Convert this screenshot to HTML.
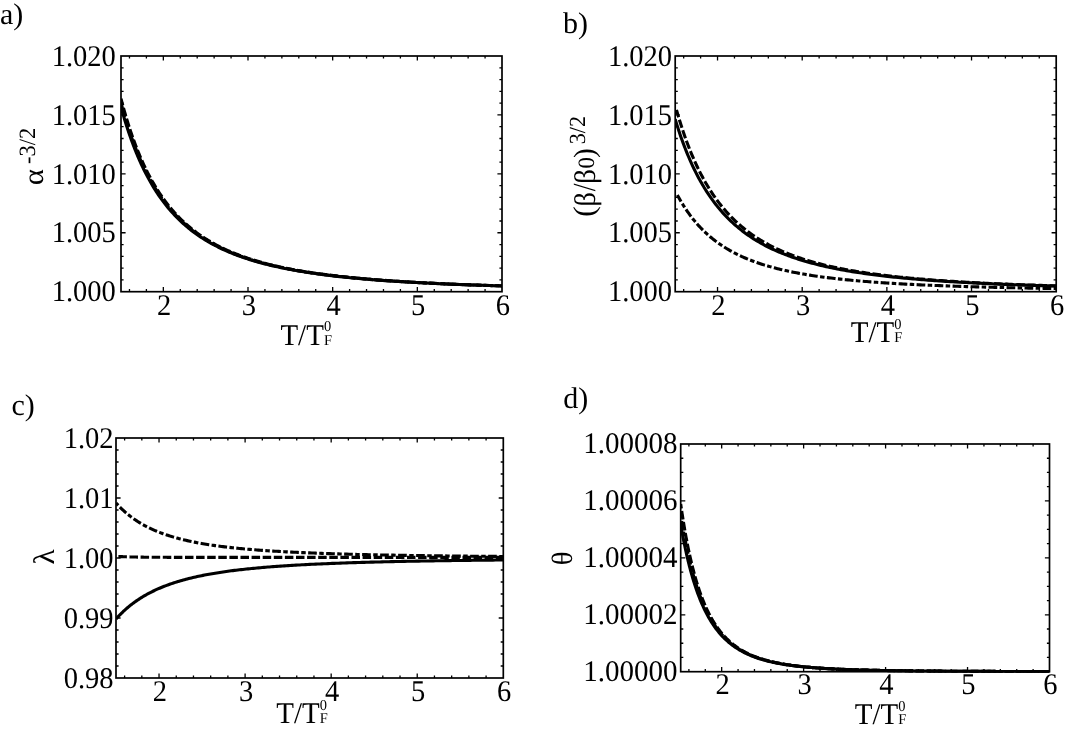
<!DOCTYPE html>
<html lang="en"><head><meta charset="utf-8"><title>Scaling parameters vs T/TF0</title>
<style>html,body{margin:0;padding:0;background:#fff;}svg{display:block;}</style></head><body>
<svg width="1065" height="733" viewBox="0 0 1065 733" font-family='"Liberation Serif", "DejaVu Serif", serif' fill="#000" text-rendering="geometricPrecision">
<rect width="1065" height="733" fill="#fff"/>
<g id="panel-a">
<clipPath id="ca"><rect x="121" y="56" width="381" height="235.7"/></clipPath>
<g clip-path="url(#ca)">
<path d="M121.00 98.64L121.06 98.87L121.18 99.33L121.35 99.97L121.55 100.74L121.78 101.63L122.05 102.63L122.34 103.73L122.66 104.91L123.01 106.18L123.37 107.52L123.77 108.92L124.18 110.40L124.61 111.92L125.07 113.51L125.54 115.14L126.04 116.81L126.55 118.52L127.08 120.28L127.63 122.06L128.20 123.88L128.78 125.72L129.38 127.59L130.00 129.47L130.63 131.38L131.28 133.30L131.95 135.24L132.63 137.18L133.33 139.14L134.04 141.10L134.77 143.07L135.51 145.04L136.27 147.01L137.04 148.98L137.82 150.95L138.62 152.91L139.43 154.87L140.26 156.82L141.10 158.77L141.95 160.70L142.82 162.63L143.70 164.54L144.59 166.44L145.49 168.33L146.41 170.21L147.34 172.07L148.28 173.91L149.24 175.74L150.21 177.56L151.19 179.35L152.18 181.13L153.18 182.89L154.20 184.63L155.22 186.35L156.26 188.05L157.31 189.73L158.38 191.39L159.45 193.03L160.53 194.65L161.63 196.25L162.74 197.83L163.86 199.39L164.99 200.92L166.13 202.44L167.28 203.93L168.44 205.41L169.61 206.86L170.80 208.29L171.99 209.70L173.20 211.09L174.41 212.46L175.64 213.80L176.88 215.13L178.12 216.43L179.38 217.72L180.65 218.98L181.92 220.23L183.21 221.45L184.51 222.65L185.82 223.84L187.14 225.00L188.46 226.15L189.80 227.27L191.15 228.38L192.50 229.47L193.87 230.54L195.25 231.59L196.63 232.63L198.03 233.64L199.44 234.64L200.85 235.62L202.27 236.59L203.71 237.53L205.15 238.46L206.60 239.38L208.07 240.28L209.54 241.16L211.02 242.02L212.51 242.87L214.00 243.71L215.51 244.53L217.03 245.34L218.55 246.13L220.09 246.90L221.63 247.67L223.19 248.42L224.75 249.15L226.32 249.87L227.90 250.58L229.49 251.28L231.08 251.96L232.69 252.63L234.30 253.29L235.92 253.94L237.56 254.57L239.20 255.20L240.85 255.81L242.50 256.41L244.17 257.00L245.84 257.58L247.53 258.15L249.22 258.71L250.92 259.25L252.62 259.79L254.34 260.32L256.07 260.84L257.80 261.35L259.54 261.84L261.29 262.34L263.05 262.82L264.81 263.29L266.59 263.75L268.37 264.21L270.16 264.65L271.96 265.09L273.76 265.52L275.58 265.95L277.40 266.36L279.23 266.77L281.07 267.17L282.92 267.56L284.77 267.95L286.63 268.33L288.50 268.70L290.38 269.07L292.27 269.42L294.16 269.78L296.06 270.12L297.97 270.46L299.89 270.80L301.81 271.12L303.75 271.45L305.69 271.76L307.64 272.07L309.59 272.38L311.55 272.68L313.53 272.97L315.50 273.26L317.49 273.54L319.48 273.82L321.48 274.10L323.49 274.36L325.51 274.63L327.53 274.89L329.56 275.14L331.60 275.39L333.65 275.64L335.70 275.88L337.76 276.12L339.83 276.35L341.91 276.58L343.99 276.81L346.08 277.03L348.18 277.25L350.28 277.46L352.39 277.67L354.51 277.88L356.64 278.08L358.77 278.28L360.91 278.47L363.06 278.67L365.22 278.86L367.38 279.04L369.55 279.23L371.72 279.41L373.91 279.58L376.10 279.76L378.30 279.93L380.50 280.10L382.71 280.26L384.93 280.42L387.16 280.58L389.39 280.74L391.63 280.90L393.88 281.05L396.13 281.20L398.39 281.34L400.66 281.49L402.94 281.63L405.22 281.77L407.51 281.91L409.80 282.04L412.11 282.18L414.41 282.31L416.73 282.44L419.05 282.56L421.38 282.69L423.72 282.81L426.06 282.93L428.41 283.05L430.77 283.17L433.13 283.28L435.50 283.39L437.88 283.51L440.26 283.62L442.65 283.72L445.05 283.83L447.46 283.93L449.87 284.04L452.28 284.14L454.71 284.24L457.14 284.34L459.57 284.43L462.02 284.53L464.47 284.62L466.92 284.71L469.39 284.80L471.86 284.89L474.33 284.98L476.82 285.07L479.31 285.15L481.80 285.24L484.30 285.32L486.81 285.40L489.33 285.48L491.85 285.56L494.38 285.64L496.91 285.71L499.45 285.79L502.00 285.86" fill="none" stroke="#000" stroke-width="3.1" stroke-dasharray="8.5 2.6" stroke-dashoffset="1.5"/>
<path d="M121.00 102.89L121.06 103.11L121.18 103.56L121.35 104.18L121.55 104.92L121.78 105.79L122.05 106.76L122.34 107.82L122.66 108.97L123.01 110.20L123.37 111.50L123.77 112.87L124.18 114.29L124.61 115.78L125.07 117.31L125.54 118.89L126.04 120.52L126.55 122.18L127.08 123.88L127.63 125.62L128.20 127.38L128.78 129.17L129.38 130.98L130.00 132.82L130.63 134.67L131.28 136.54L131.95 138.42L132.63 140.31L133.33 142.21L134.04 144.12L134.77 146.03L135.51 147.95L136.27 149.86L137.04 151.78L137.82 153.70L138.62 155.61L139.43 157.51L140.26 159.41L141.10 161.31L141.95 163.19L142.82 165.07L143.70 166.93L144.59 168.79L145.49 170.63L146.41 172.45L147.34 174.27L148.28 176.06L149.24 177.85L150.21 179.61L151.19 181.36L152.18 183.10L153.18 184.81L154.20 186.51L155.22 188.19L156.26 189.85L157.31 191.49L158.38 193.11L159.45 194.71L160.53 196.30L161.63 197.86L162.74 199.40L163.86 200.92L164.99 202.42L166.13 203.91L167.28 205.37L168.44 206.81L169.61 208.23L170.80 209.62L171.99 211.00L173.20 212.36L174.41 213.70L175.64 215.02L176.88 216.31L178.12 217.59L179.38 218.85L180.65 220.09L181.92 221.30L183.21 222.50L184.51 223.68L185.82 224.84L187.14 225.98L188.46 227.11L189.80 228.21L191.15 229.29L192.50 230.36L193.87 231.41L195.25 232.44L196.63 233.45L198.03 234.45L199.44 235.43L200.85 236.39L202.27 237.34L203.71 238.27L205.15 239.18L206.60 240.08L208.07 240.96L209.54 241.82L211.02 242.68L212.51 243.51L214.00 244.33L215.51 245.14L217.03 245.93L218.55 246.71L220.09 247.47L221.63 248.22L223.19 248.95L224.75 249.68L226.32 250.39L227.90 251.08L229.49 251.77L231.08 252.44L232.69 253.10L234.30 253.75L235.92 254.39L237.56 255.01L239.20 255.62L240.85 256.23L242.50 256.82L244.17 257.40L245.84 257.97L247.53 258.53L249.22 259.08L250.92 259.61L252.62 260.14L254.34 260.66L256.07 261.17L257.80 261.67L259.54 262.17L261.29 262.65L263.05 263.12L264.81 263.59L266.59 264.05L268.37 264.49L270.16 264.94L271.96 265.37L273.76 265.79L275.58 266.21L277.40 266.62L279.23 267.02L281.07 267.42L282.92 267.80L284.77 268.18L286.63 268.56L288.50 268.92L290.38 269.29L292.27 269.64L294.16 269.99L296.06 270.33L297.97 270.66L299.89 270.99L301.81 271.32L303.75 271.63L305.69 271.95L307.64 272.25L309.59 272.55L311.55 272.85L313.53 273.14L315.50 273.42L317.49 273.70L319.48 273.98L321.48 274.25L323.49 274.52L325.51 274.78L327.53 275.03L329.56 275.28L331.60 275.53L333.65 275.77L335.70 276.01L337.76 276.25L339.83 276.48L341.91 276.71L343.99 276.93L346.08 277.15L348.18 277.36L350.28 277.57L352.39 277.78L354.51 277.99L356.64 278.19L358.77 278.38L360.91 278.58L363.06 278.77L365.22 278.96L367.38 279.14L369.55 279.32L371.72 279.50L373.91 279.68L376.10 279.85L378.30 280.02L380.50 280.18L382.71 280.35L384.93 280.51L387.16 280.67L389.39 280.82L391.63 280.97L393.88 281.12L396.13 281.27L398.39 281.42L400.66 281.56L402.94 281.70L405.22 281.84L407.51 281.98L409.80 282.11L412.11 282.24L414.41 282.37L416.73 282.50L419.05 282.63L421.38 282.75L423.72 282.87L426.06 282.99L428.41 283.11L430.77 283.22L433.13 283.34L435.50 283.45L437.88 283.56L440.26 283.67L442.65 283.77L445.05 283.88L447.46 283.98L449.87 284.09L452.28 284.19L454.71 284.28L457.14 284.38L459.57 284.48L462.02 284.57L464.47 284.66L466.92 284.75L469.39 284.84L471.86 284.93L474.33 285.02L476.82 285.11L479.31 285.19L481.80 285.27L484.30 285.36L486.81 285.44L489.33 285.52L491.85 285.59L494.38 285.67L496.91 285.75L499.45 285.82L502.00 285.89" fill="none" stroke="#000" stroke-width="3.1" stroke-dasharray="8.7 2.4 4.5 2.4" stroke-dashoffset="1"/>
<path d="M121.00 106.95L121.06 107.17L121.18 107.61L121.35 108.20L121.55 108.93L121.78 109.77L122.05 110.71L122.34 111.74L122.66 112.86L123.01 114.05L123.37 115.31L123.77 116.63L124.18 118.02L124.61 119.46L125.07 120.95L125.54 122.49L126.04 124.07L126.55 125.68L127.08 127.33L127.63 129.02L128.20 130.73L128.78 132.47L129.38 134.23L130.00 136.02L130.63 137.82L131.28 139.63L131.95 141.46L132.63 143.30L133.33 145.15L134.04 147.01L134.77 148.87L135.51 150.73L136.27 152.60L137.04 154.46L137.82 156.33L138.62 158.19L139.43 160.04L140.26 161.89L141.10 163.74L141.95 165.57L142.82 167.40L143.70 169.22L144.59 171.02L145.49 172.82L146.41 174.60L147.34 176.37L148.28 178.12L149.24 179.86L150.21 181.58L151.19 183.29L152.18 184.98L153.18 186.66L154.20 188.31L155.22 189.95L156.26 191.57L157.31 193.18L158.38 194.76L159.45 196.33L160.53 197.87L161.63 199.40L162.74 200.90L163.86 202.39L164.99 203.86L166.13 205.31L167.28 206.74L168.44 208.14L169.61 209.53L170.80 210.90L171.99 212.25L173.20 213.58L174.41 214.89L175.64 216.18L176.88 217.45L178.12 218.70L179.38 219.93L180.65 221.14L181.92 222.34L183.21 223.51L184.51 224.66L185.82 225.80L187.14 226.92L188.46 228.02L189.80 229.10L191.15 230.17L192.50 231.21L193.87 232.24L195.25 233.25L196.63 234.25L198.03 235.22L199.44 236.19L200.85 237.13L202.27 238.06L203.71 238.97L205.15 239.87L206.60 240.75L208.07 241.61L209.54 242.46L211.02 243.30L212.51 244.12L214.00 244.92L215.51 245.72L217.03 246.49L218.55 247.26L220.09 248.01L221.63 248.75L223.19 249.47L224.75 250.18L226.32 250.88L227.90 251.56L229.49 252.24L231.08 252.90L232.69 253.55L234.30 254.19L235.92 254.81L237.56 255.43L239.20 256.03L240.85 256.62L242.50 257.20L244.17 257.78L245.84 258.34L247.53 258.89L249.22 259.43L250.92 259.96L252.62 260.48L254.34 260.99L256.07 261.50L257.80 261.99L259.54 262.47L261.29 262.95L263.05 263.42L264.81 263.88L266.59 264.33L268.37 264.77L270.16 265.20L271.96 265.63L273.76 266.05L275.58 266.46L277.40 266.86L279.23 267.26L281.07 267.65L282.92 268.03L284.77 268.41L286.63 268.78L288.50 269.14L290.38 269.49L292.27 269.84L294.16 270.19L296.06 270.52L297.97 270.85L299.89 271.18L301.81 271.50L303.75 271.81L305.69 272.12L307.64 272.42L309.59 272.72L311.55 273.01L313.53 273.30L315.50 273.58L317.49 273.86L319.48 274.13L321.48 274.40L323.49 274.66L325.51 274.92L327.53 275.17L329.56 275.42L331.60 275.66L333.65 275.90L335.70 276.14L337.76 276.37L339.83 276.60L341.91 276.83L343.99 277.05L346.08 277.26L348.18 277.48L350.28 277.68L352.39 277.89L354.51 278.09L356.64 278.29L358.77 278.49L360.91 278.68L363.06 278.87L365.22 279.05L367.38 279.23L369.55 279.41L371.72 279.59L373.91 279.76L376.10 279.93L378.30 280.10L380.50 280.27L382.71 280.43L384.93 280.59L387.16 280.74L389.39 280.90L391.63 281.05L393.88 281.20L396.13 281.34L398.39 281.49L400.66 281.63L402.94 281.77L405.22 281.91L407.51 282.04L409.80 282.17L412.11 282.31L414.41 282.43L416.73 282.56L419.05 282.68L421.38 282.81L423.72 282.93L426.06 283.05L428.41 283.16L430.77 283.28L433.13 283.39L435.50 283.50L437.88 283.61L440.26 283.72L442.65 283.82L445.05 283.93L447.46 284.03L449.87 284.13L452.28 284.23L454.71 284.33L457.14 284.43L459.57 284.52L462.02 284.61L464.47 284.71L466.92 284.80L469.39 284.88L471.86 284.97L474.33 285.06L476.82 285.14L479.31 285.23L481.80 285.31L484.30 285.39L486.81 285.47L489.33 285.55L491.85 285.63L494.38 285.70L496.91 285.78L499.45 285.85L502.00 285.93" fill="none" stroke="#000" stroke-width="3.1"/>
</g>
<rect x="121" y="56" width="381" height="235.7" fill="none" stroke="#000" stroke-width="1.7"/>
<path d="M129.47 291.7v-2.6M129.47 56v2.6M146.4 291.7v-2.6M146.4 56v2.6M163.33 291.7v-4.6M163.33 56v4.6M180.27 291.7v-2.6M180.27 56v2.6M197.2 291.7v-2.6M197.2 56v2.6M214.13 291.7v-2.6M214.13 56v2.6M231.07 291.7v-2.6M231.07 56v2.6M248 291.7v-4.6M248 56v4.6M264.93 291.7v-2.6M264.93 56v2.6M281.87 291.7v-2.6M281.87 56v2.6M298.8 291.7v-2.6M298.8 56v2.6M315.73 291.7v-2.6M315.73 56v2.6M332.67 291.7v-4.6M332.67 56v4.6M349.6 291.7v-2.6M349.6 56v2.6M366.53 291.7v-2.6M366.53 56v2.6M383.47 291.7v-2.6M383.47 56v2.6M400.4 291.7v-2.6M400.4 56v2.6M417.33 291.7v-4.6M417.33 56v4.6M434.27 291.7v-2.6M434.27 56v2.6M451.2 291.7v-2.6M451.2 56v2.6M468.13 291.7v-2.6M468.13 56v2.6M485.07 291.7v-2.6M485.07 56v2.6M121 279.91h2.6M502 279.91h-2.6M121 268.13h2.6M502 268.13h-2.6M121 256.34h2.6M502 256.34h-2.6M121 244.56h2.6M502 244.56h-2.6M121 232.77h4.6M502 232.77h-4.6M121 220.99h2.6M502 220.99h-2.6M121 209.2h2.6M502 209.2h-2.6M121 197.42h2.6M502 197.42h-2.6M121 185.63h2.6M502 185.63h-2.6M121 173.85h4.6M502 173.85h-4.6M121 162.06h2.6M502 162.06h-2.6M121 150.28h2.6M502 150.28h-2.6M121 138.5h2.6M502 138.5h-2.6M121 126.71h2.6M502 126.71h-2.6M121 114.93h4.6M502 114.93h-4.6M121 103.14h2.6M502 103.14h-2.6M121 91.35h2.6M502 91.35h-2.6M121 79.57h2.6M502 79.57h-2.6M121 67.78h2.6M502 67.78h-2.6" fill="none" stroke="#000" stroke-width="1.3"/>
<text transform="translate(115.8 301.4) scale(0.95 1.0)" font-size="30" text-anchor="end">1.000</text>
<text transform="translate(115.8 242.47) scale(0.95 1.0)" font-size="30" text-anchor="end">1.005</text>
<text transform="translate(115.8 183.55) scale(0.95 1.0)" font-size="30" text-anchor="end">1.010</text>
<text transform="translate(115.8 124.63) scale(0.95 1.0)" font-size="30" text-anchor="end">1.015</text>
<text transform="translate(115.8 65.7) scale(0.95 1.0)" font-size="30" text-anchor="end">1.020</text>
<text transform="translate(164.23 315.2) scale(0.95 1.0)" font-size="30" text-anchor="middle">2</text>
<text transform="translate(248.9 315.2) scale(0.95 1.0)" font-size="30" text-anchor="middle">3</text>
<text transform="translate(333.57 315.2) scale(0.95 1.0)" font-size="30" text-anchor="middle">4</text>
<text transform="translate(418.23 315.2) scale(0.95 1.0)" font-size="30" text-anchor="middle">5</text>
<text transform="translate(502.9 315.2) scale(0.95 1.0)" font-size="30" text-anchor="middle">6</text>
<text transform="translate(280.4 344.8) scale(0.965 1.0)" font-size="30">T/T</text>
<text transform="translate(323.9 331.4) scale(0.965 1.0)" font-size="15">0</text>
<text transform="translate(323.9 344.8) scale(0.965 1.0)" font-size="15">F</text>
<text x="0" y="24" font-size="30">a)</text>
<text transform="translate(42.81 185.14) rotate(-90) scale(1.081 1)" font-size="28.75">α</text>
<text transform="translate(34.77 163.9) rotate(-90) scale(0.959 1)" font-size="23.33">-3/2</text>
</g>
<g id="panel-b">
<clipPath id="cb"><rect x="675.2" y="56" width="381" height="235.7"/></clipPath>
<g clip-path="url(#cb)">
<path d="M677.40 195.01L677.46 195.12L677.58 195.35L677.74 195.65L677.94 196.03L678.18 196.45L678.44 196.94L678.73 197.46L679.05 198.04L679.39 198.65L679.76 199.29L680.15 199.97L680.56 200.68L680.99 201.42L681.44 202.18L681.92 202.97L682.41 203.78L682.92 204.61L683.45 205.46L683.99 206.32L684.56 207.20L685.14 208.10L685.73 209.00L686.35 209.92L686.98 210.84L687.63 211.78L688.29 212.72L688.97 213.67L689.66 214.62L690.37 215.57L691.09 216.53L691.83 217.49L692.58 218.46L693.34 219.42L694.12 220.38L694.92 221.34L695.73 222.30L696.55 223.26L697.38 224.21L698.23 225.16L699.09 226.11L699.96 227.05L700.85 227.98L701.75 228.91L702.66 229.83L703.59 230.75L704.53 231.66L705.48 232.56L706.44 233.46L707.41 234.34L708.40 235.22L709.40 236.09L710.40 236.95L711.43 237.81L712.46 238.65L713.50 239.48L714.56 240.31L715.63 241.12L716.71 241.93L717.80 242.72L718.90 243.51L720.01 244.29L721.13 245.05L722.27 245.81L723.41 246.55L724.57 247.29L725.73 248.02L726.91 248.73L728.10 249.44L729.30 250.13L730.50 250.82L731.72 251.49L732.95 252.16L734.19 252.81L735.44 253.46L736.70 254.10L737.97 254.72L739.25 255.34L740.54 255.95L741.84 256.54L743.15 257.13L744.47 257.71L745.80 258.28L747.14 258.84L748.49 259.39L749.85 259.93L751.22 260.46L752.60 260.99L753.99 261.50L755.38 262.01L756.79 262.51L758.21 263.00L759.63 263.48L761.07 263.95L762.51 264.42L763.96 264.87L765.43 265.32L766.90 265.76L768.38 266.20L769.87 266.62L771.37 267.04L772.87 267.45L774.39 267.86L775.92 268.26L777.45 268.65L779.00 269.03L780.55 269.41L782.11 269.78L783.68 270.14L785.26 270.50L786.85 270.85L788.44 271.19L790.05 271.53L791.66 271.86L793.28 272.19L794.91 272.51L796.55 272.83L798.20 273.14L799.86 273.44L801.52 273.74L803.19 274.03L804.88 274.32L806.57 274.60L808.26 274.88L809.97 275.15L811.69 275.42L813.41 275.68L815.14 275.94L816.88 276.20L818.63 276.45L820.38 276.69L822.15 276.93L823.92 277.17L825.70 277.40L827.49 277.63L829.28 277.85L831.09 278.07L832.90 278.29L834.72 278.50L836.55 278.71L838.38 278.91L840.23 279.11L842.08 279.31L843.94 279.50L845.80 279.69L847.68 279.88L849.56 280.06L851.45 280.24L853.35 280.42L855.26 280.60L857.17 280.77L859.09 280.94L861.02 281.10L862.96 281.26L864.90 281.42L866.85 281.58L868.81 281.73L870.78 281.88L872.76 282.03L874.74 282.18L876.73 282.32L878.72 282.46L880.73 282.60L882.74 282.74L884.76 282.87L886.79 283.00L888.82 283.13L890.86 283.26L892.91 283.38L894.97 283.51L897.03 283.63L899.10 283.75L901.18 283.86L903.26 283.98L905.36 284.09L907.46 284.20L909.56 284.31L911.68 284.42L913.80 284.52L915.93 284.63L918.06 284.73L920.21 284.83L922.36 284.93L924.51 285.02L926.68 285.12L928.85 285.21L931.03 285.30L933.21 285.39L935.40 285.48L937.60 285.57L939.81 285.66L942.02 285.74L944.24 285.82L946.47 285.90L948.70 285.99L950.94 286.06L953.19 286.14L955.45 286.22L957.71 286.29L959.98 286.37L962.25 286.44L964.54 286.51L966.82 286.58L969.12 286.65L971.42 286.72L973.73 286.79L976.05 286.85L978.37 286.92L980.70 286.98L983.04 287.05L985.38 287.11L987.73 287.17L990.09 287.23L992.45 287.29L994.82 287.35L997.20 287.41L999.58 287.46L1001.97 287.52L1004.37 287.57L1006.77 287.63L1009.18 287.68L1011.60 287.73L1014.02 287.78L1016.45 287.83L1018.88 287.88L1021.33 287.93L1023.78 287.98L1026.23 288.03L1028.69 288.08L1031.16 288.12L1033.64 288.17L1036.12 288.21L1038.61 288.26L1041.10 288.30L1043.60 288.34L1046.11 288.38L1048.62 288.43L1051.14 288.47L1053.67 288.51L1056.20 288.55" fill="none" stroke="#000" stroke-width="3.1" stroke-dasharray="8.7 2.4 4.5 2.4" stroke-dashoffset="1.2"/>
<path d="M676.50 109.93L676.56 110.14L676.68 110.56L676.84 111.14L677.05 111.85L677.28 112.66L677.54 113.58L677.84 114.58L678.16 115.66L678.50 116.82L678.87 118.04L679.26 119.33L679.67 120.68L680.10 122.08L680.55 123.53L681.03 125.02L681.52 126.55L682.03 128.13L682.56 129.73L683.11 131.37L683.67 133.04L684.25 134.73L684.85 136.45L685.47 138.18L686.10 139.93L686.75 141.70L687.41 143.48L688.09 145.28L688.79 147.08L689.50 148.89L690.22 150.70L690.96 152.52L691.71 154.34L692.48 156.16L693.26 157.98L694.06 159.80L694.87 161.61L695.69 163.42L696.53 165.22L697.38 167.01L698.24 168.80L699.12 170.57L700.01 172.34L700.91 174.09L701.82 175.84L702.75 177.57L703.69 179.28L704.64 180.98L705.61 182.67L706.58 184.34L707.57 186.00L708.57 187.64L709.58 189.26L710.61 190.87L711.64 192.46L712.69 194.03L713.75 195.59L714.82 197.12L715.90 198.64L716.99 200.14L718.10 201.62L719.21 203.08L720.34 204.52L721.47 205.94L722.62 207.35L723.78 208.73L724.95 210.10L726.13 211.44L727.32 212.77L728.52 214.08L729.73 215.37L730.95 216.63L732.18 217.89L733.43 219.12L734.68 220.33L735.94 221.52L737.22 222.70L738.50 223.86L739.79 225.00L741.10 226.12L742.41 227.22L743.73 228.31L745.07 229.37L746.41 230.42L747.76 231.46L749.12 232.47L750.49 233.47L751.88 234.45L753.27 235.42L754.67 236.37L756.08 237.30L757.50 238.22L758.93 239.12L760.36 240.01L761.81 240.88L763.27 241.74L764.73 242.58L766.21 243.40L767.69 244.22L769.19 245.01L770.69 245.80L772.20 246.57L773.72 247.33L775.25 248.07L776.79 248.80L778.34 249.52L779.89 250.22L781.46 250.91L783.03 251.59L784.62 252.26L786.21 252.92L787.81 253.56L789.42 254.20L791.03 254.82L792.66 255.43L794.29 256.03L795.94 256.61L797.59 257.19L799.25 257.76L800.92 258.32L802.59 258.87L804.28 259.40L805.97 259.93L807.68 260.45L809.39 260.96L811.10 261.46L812.83 261.95L814.57 262.43L816.31 262.91L818.06 263.37L819.82 263.83L821.59 264.28L823.37 264.72L825.15 265.15L826.94 265.57L828.74 265.99L830.55 266.40L832.37 266.80L834.19 267.20L836.02 267.59L837.86 267.97L839.71 268.34L841.57 268.71L843.43 269.07L845.30 269.42L847.18 269.77L849.07 270.12L850.97 270.45L852.87 270.78L854.78 271.11L856.70 271.42L858.62 271.74L860.56 272.05L862.50 272.35L864.45 272.64L866.40 272.94L868.37 273.22L870.34 273.50L872.32 273.78L874.31 274.05L876.30 274.32L878.30 274.58L880.31 274.84L882.33 275.09L884.35 275.34L886.38 275.59L888.42 275.83L890.47 276.06L892.52 276.29L894.58 276.52L896.65 276.75L898.73 276.97L900.81 277.18L902.90 277.40L905.00 277.61L907.10 277.81L909.21 278.01L911.33 278.21L913.46 278.41L915.59 278.60L917.73 278.79L919.88 278.97L922.04 279.16L924.20 279.34L926.37 279.51L928.55 279.69L930.73 279.86L932.92 280.03L935.12 280.19L937.32 280.35L939.53 280.51L941.75 280.67L943.98 280.82L946.21 280.98L948.45 281.13L950.69 281.27L952.95 281.42L955.21 281.56L957.48 281.70L959.75 281.84L962.03 281.97L964.32 282.10L966.61 282.24L968.91 282.36L971.22 282.49L973.54 282.62L975.86 282.74L978.19 282.86L980.52 282.98L982.86 283.10L985.21 283.21L987.57 283.32L989.93 283.44L992.30 283.55L994.67 283.65L997.06 283.76L999.45 283.86L1001.84 283.97L1004.24 284.07L1006.65 284.17L1009.07 284.27L1011.49 284.36L1013.92 284.46L1016.35 284.55L1018.80 284.65L1021.24 284.74L1023.70 284.83L1026.16 284.91L1028.63 285.00L1031.10 285.09L1033.58 285.17L1036.07 285.25L1038.56 285.33L1041.06 285.42L1043.57 285.49L1046.08 285.57L1048.60 285.65L1051.13 285.73L1053.66 285.80L1056.20 285.87" fill="none" stroke="#000" stroke-width="3.1" stroke-dasharray="8.5 2.6" stroke-dashoffset="0.9"/>
<path d="M675.20 119.22L675.26 119.42L675.38 119.82L675.55 120.37L675.75 121.03L675.98 121.80L676.25 122.66L676.54 123.61L676.86 124.63L677.21 125.72L677.57 126.88L677.97 128.10L678.38 129.37L678.81 130.69L679.27 132.05L679.74 133.46L680.24 134.91L680.75 136.39L681.28 137.91L681.83 139.46L682.40 141.03L682.98 142.63L683.58 144.25L684.20 145.88L684.83 147.54L685.48 149.21L686.15 150.89L686.83 152.58L687.53 154.29L688.24 155.99L688.97 157.71L689.71 159.42L690.47 161.14L691.24 162.86L692.02 164.58L692.82 166.30L693.63 168.01L694.46 169.72L695.30 171.42L696.15 173.12L697.02 174.81L697.90 176.48L698.79 178.15L699.69 179.81L700.61 181.46L701.54 183.10L702.48 184.72L703.44 186.33L704.41 187.93L705.39 189.51L706.38 191.08L707.38 192.63L708.40 194.16L709.42 195.69L710.46 197.19L711.51 198.68L712.58 200.15L713.65 201.60L714.73 203.04L715.83 204.46L716.94 205.86L718.06 207.24L719.19 208.61L720.33 209.96L721.48 211.29L722.64 212.60L723.81 213.89L725.00 215.17L726.19 216.43L727.40 217.67L728.61 218.89L729.84 220.09L731.08 221.28L732.32 222.44L733.58 223.60L734.85 224.73L736.12 225.84L737.41 226.94L738.71 228.02L740.02 229.09L741.34 230.13L742.66 231.16L744.00 232.18L745.35 233.17L746.70 234.15L748.07 235.12L749.45 236.07L750.83 237.00L752.23 237.92L753.64 238.82L755.05 239.71L756.47 240.58L757.91 241.44L759.35 242.28L760.80 243.11L762.27 243.92L763.74 244.72L765.22 245.51L766.71 246.28L768.20 247.04L769.71 247.78L771.23 248.52L772.75 249.24L774.29 249.94L775.83 250.64L777.39 251.32L778.95 251.99L780.52 252.65L782.10 253.30L783.69 253.93L785.28 254.56L786.89 255.17L788.50 255.77L790.12 256.37L791.76 256.95L793.40 257.52L795.05 258.08L796.70 258.63L798.37 259.17L800.04 259.70L801.73 260.22L803.42 260.74L805.12 261.24L806.82 261.73L808.54 262.22L810.27 262.70L812.00 263.16L813.74 263.62L815.49 264.08L817.25 264.52L819.01 264.96L820.79 265.38L822.57 265.80L824.36 266.22L826.16 266.62L827.96 267.02L829.78 267.41L831.60 267.80L833.43 268.17L835.27 268.54L837.12 268.91L838.97 269.26L840.83 269.62L842.70 269.96L844.58 270.30L846.47 270.63L848.36 270.96L850.26 271.28L852.17 271.60L854.09 271.91L856.01 272.21L857.95 272.51L859.89 272.80L861.84 273.09L863.79 273.38L865.75 273.66L867.73 273.93L869.70 274.20L871.69 274.46L873.68 274.72L875.68 274.98L877.69 275.23L879.71 275.48L881.73 275.72L883.76 275.96L885.80 276.19L887.85 276.42L889.90 276.65L891.96 276.87L894.03 277.09L896.11 277.30L898.19 277.51L900.28 277.72L902.38 277.93L904.48 278.13L906.59 278.32L908.71 278.52L910.84 278.71L912.97 278.89L915.11 279.08L917.26 279.26L919.42 279.44L921.58 279.61L923.75 279.78L925.92 279.95L928.11 280.12L930.30 280.28L932.50 280.45L934.70 280.60L936.91 280.76L939.13 280.91L941.36 281.06L943.59 281.21L945.83 281.36L948.08 281.50L950.33 281.64L952.59 281.78L954.86 281.92L957.14 282.05L959.42 282.18L961.71 282.31L964.00 282.44L966.31 282.57L968.61 282.69L970.93 282.81L973.25 282.93L975.58 283.05L977.92 283.17L980.26 283.28L982.61 283.39L984.97 283.50L987.33 283.61L989.70 283.72L992.08 283.82L994.46 283.93L996.85 284.03L999.25 284.13L1001.66 284.23L1004.07 284.33L1006.48 284.42L1008.91 284.52L1011.34 284.61L1013.77 284.70L1016.22 284.79L1018.67 284.88L1021.12 284.97L1023.59 285.06L1026.06 285.14L1028.53 285.22L1031.02 285.31L1033.51 285.39L1036.00 285.47L1038.50 285.55L1041.01 285.62L1043.53 285.70L1046.05 285.77L1048.58 285.85L1051.11 285.92L1053.65 285.99L1056.20 286.06" fill="none" stroke="#000" stroke-width="3.1"/>
</g>
<rect x="675.2" y="56" width="381" height="235.7" fill="none" stroke="#000" stroke-width="1.7"/>
<path d="M683.67 291.7v-2.6M683.67 56v2.6M700.6 291.7v-2.6M700.6 56v2.6M717.53 291.7v-4.6M717.53 56v4.6M734.47 291.7v-2.6M734.47 56v2.6M751.4 291.7v-2.6M751.4 56v2.6M768.33 291.7v-2.6M768.33 56v2.6M785.27 291.7v-2.6M785.27 56v2.6M802.2 291.7v-4.6M802.2 56v4.6M819.13 291.7v-2.6M819.13 56v2.6M836.07 291.7v-2.6M836.07 56v2.6M853 291.7v-2.6M853 56v2.6M869.93 291.7v-2.6M869.93 56v2.6M886.87 291.7v-4.6M886.87 56v4.6M903.8 291.7v-2.6M903.8 56v2.6M920.73 291.7v-2.6M920.73 56v2.6M937.67 291.7v-2.6M937.67 56v2.6M954.6 291.7v-2.6M954.6 56v2.6M971.53 291.7v-4.6M971.53 56v4.6M988.47 291.7v-2.6M988.47 56v2.6M1005.4 291.7v-2.6M1005.4 56v2.6M1022.33 291.7v-2.6M1022.33 56v2.6M1039.27 291.7v-2.6M1039.27 56v2.6M675.2 279.91h2.6M1056.2 279.91h-2.6M675.2 268.13h2.6M1056.2 268.13h-2.6M675.2 256.34h2.6M1056.2 256.34h-2.6M675.2 244.56h2.6M1056.2 244.56h-2.6M675.2 232.77h4.6M1056.2 232.77h-4.6M675.2 220.99h2.6M1056.2 220.99h-2.6M675.2 209.2h2.6M1056.2 209.2h-2.6M675.2 197.42h2.6M1056.2 197.42h-2.6M675.2 185.63h2.6M1056.2 185.63h-2.6M675.2 173.85h4.6M1056.2 173.85h-4.6M675.2 162.06h2.6M1056.2 162.06h-2.6M675.2 150.28h2.6M1056.2 150.28h-2.6M675.2 138.5h2.6M1056.2 138.5h-2.6M675.2 126.71h2.6M1056.2 126.71h-2.6M675.2 114.93h4.6M1056.2 114.93h-4.6M675.2 103.14h2.6M1056.2 103.14h-2.6M675.2 91.35h2.6M1056.2 91.35h-2.6M675.2 79.57h2.6M1056.2 79.57h-2.6M675.2 67.78h2.6M1056.2 67.78h-2.6" fill="none" stroke="#000" stroke-width="1.3"/>
<text transform="translate(672.1 301.4) scale(0.95 1.0)" font-size="30" text-anchor="end">1.000</text>
<text transform="translate(672.1 242.47) scale(0.95 1.0)" font-size="30" text-anchor="end">1.005</text>
<text transform="translate(672.1 183.55) scale(0.95 1.0)" font-size="30" text-anchor="end">1.010</text>
<text transform="translate(672.1 124.63) scale(0.95 1.0)" font-size="30" text-anchor="end">1.015</text>
<text transform="translate(672.1 65.7) scale(0.95 1.0)" font-size="30" text-anchor="end">1.020</text>
<text transform="translate(718.43 314.7) scale(0.95 1.0)" font-size="30" text-anchor="middle">2</text>
<text transform="translate(803.1 314.7) scale(0.95 1.0)" font-size="30" text-anchor="middle">3</text>
<text transform="translate(887.77 314.7) scale(0.95 1.0)" font-size="30" text-anchor="middle">4</text>
<text transform="translate(972.43 314.7) scale(0.95 1.0)" font-size="30" text-anchor="middle">5</text>
<text transform="translate(1057.1 314.7) scale(0.95 1.0)" font-size="30" text-anchor="middle">6</text>
<text transform="translate(850.8 342.2) scale(0.965 1.0)" font-size="30">T/T</text>
<text transform="translate(894.3 328.8) scale(0.965 1.0)" font-size="15">0</text>
<text transform="translate(894.3 342.2) scale(0.965 1.0)" font-size="15">F</text>
<text x="563" y="33" font-size="30">b)</text>
<text transform="translate(594.48 216.9) rotate(-90) scale(1.063 1)" font-size="30.11">(</text>
<text transform="translate(594.55 206.57) rotate(-90) scale(0.947 1)" font-size="29.78">β</text>
<text transform="translate(594.58 191.3) rotate(-90) scale(0.878 1)" font-size="32.12">/</text>
<text transform="translate(594.55 184.06) rotate(-90) scale(0.99 1)" font-size="29.78">β</text>
<text transform="translate(594.33 168.61) rotate(-90) scale(0.975 1)" font-size="23.43">0</text>
<text transform="translate(594.39 157.89) rotate(-90) scale(1.002 1)" font-size="29.56">)</text>
<text transform="translate(584.77 144.21) rotate(-90) scale(0.961 1)" font-size="23.03">3/2</text>
</g>
<g id="panel-c">
<clipPath id="cc"><rect x="116" y="438" width="387.3" height="240"/></clipPath>
<g clip-path="url(#cc)">
<path d="M116.00 502.91L116.06 502.98L116.18 503.12L116.35 503.31L116.56 503.54L116.80 503.81L117.07 504.10L117.36 504.43L117.69 504.78L118.04 505.16L118.41 505.56L118.81 505.98L119.23 506.41L119.67 506.87L120.13 507.33L120.62 507.82L121.12 508.31L121.64 508.82L122.18 509.34L122.74 509.87L123.32 510.41L123.91 510.95L124.52 511.50L125.15 512.06L125.79 512.62L126.45 513.19L127.13 513.76L127.82 514.33L128.53 514.90L129.26 515.48L130.00 516.06L130.75 516.63L131.52 517.21L132.30 517.79L133.10 518.37L133.91 518.94L134.74 519.51L135.58 520.08L136.43 520.65L137.30 521.21L138.18 521.78L139.07 522.33L139.98 522.89L140.90 523.44L141.83 523.98L142.78 524.52L143.73 525.05L144.71 525.58L145.69 526.11L146.68 526.63L147.69 527.14L148.71 527.65L149.75 528.15L150.79 528.65L151.85 529.14L152.91 529.62L153.99 530.10L155.09 530.57L156.19 531.04L157.30 531.50L158.43 531.95L159.57 532.39L160.71 532.83L161.87 533.27L163.04 533.70L164.22 534.12L165.42 534.53L166.62 534.94L167.84 535.34L169.06 535.74L170.30 536.12L171.54 536.51L172.80 536.88L174.07 537.25L175.34 537.62L176.63 537.98L177.93 538.33L179.24 538.68L180.56 539.02L181.89 539.35L183.23 539.68L184.58 540.00L185.94 540.32L187.31 540.63L188.69 540.94L190.08 541.24L191.48 541.54L192.89 541.83L194.30 542.11L195.73 542.39L197.17 542.67L198.62 542.94L200.08 543.21L201.54 543.47L203.02 543.72L204.51 543.97L206.00 544.22L207.51 544.46L209.02 544.70L210.54 544.93L212.08 545.16L213.62 545.38L215.17 545.61L216.73 545.82L218.30 546.03L219.88 546.24L221.46 546.45L223.06 546.65L224.66 546.84L226.28 547.04L227.90 547.23L229.53 547.41L231.18 547.59L232.83 547.77L234.48 547.95L236.15 548.12L237.83 548.29L239.51 548.46L241.21 548.62L242.91 548.78L244.62 548.94L246.34 549.09L248.06 549.24L249.80 549.39L251.55 549.53L253.30 549.68L255.06 549.82L256.83 549.95L258.61 550.09L260.40 550.22L262.19 550.35L263.99 550.48L265.81 550.60L267.63 550.72L269.45 550.84L271.29 550.96L273.14 551.08L274.99 551.19L276.85 551.30L278.72 551.41L280.59 551.52L282.48 551.63L284.37 551.73L286.27 551.83L288.18 551.93L290.10 552.03L292.03 552.12L293.96 552.22L295.90 552.31L297.85 552.40L299.80 552.49L301.77 552.58L303.74 552.66L305.72 552.75L307.71 552.83L309.71 552.91L311.71 552.99L313.72 553.07L315.74 553.15L317.77 553.22L319.80 553.30L321.84 553.37L323.89 553.44L325.95 553.51L328.01 553.58L330.08 553.65L332.16 553.72L334.25 553.78L336.35 553.85L338.45 553.91L340.56 553.97L342.68 554.03L344.80 554.09L346.93 554.15L349.07 554.21L351.22 554.26L353.37 554.32L355.53 554.38L357.70 554.43L359.88 554.48L362.06 554.53L364.25 554.58L366.45 554.64L368.66 554.68L370.87 554.73L373.09 554.78L375.32 554.83L377.55 554.87L379.79 554.92L382.04 554.96L384.30 555.01L386.56 555.05L388.83 555.09L391.11 555.13L393.39 555.17L395.68 555.21L397.98 555.25L400.29 555.29L402.60 555.33L404.92 555.37L407.25 555.40L409.58 555.44L411.92 555.48L414.27 555.51L416.62 555.55L418.98 555.58L421.35 555.61L423.73 555.65L426.11 555.68L428.50 555.71L430.89 555.74L433.29 555.77L435.70 555.80L438.12 555.83L440.54 555.86L442.97 555.89L445.41 555.92L447.85 555.95L450.30 555.97L452.76 556.00L455.22 556.03L457.69 556.05L460.17 556.08L462.66 556.10L465.15 556.13L467.64 556.15L470.15 556.18L472.66 556.20L475.18 556.23L477.70 556.25L480.23 556.27L482.77 556.29L485.31 556.32L487.86 556.34L490.42 556.36L492.98 556.38L495.55 556.40L498.13 556.42L500.71 556.44L503.30 556.46" fill="none" stroke="#000" stroke-width="3.1" stroke-dasharray="8.7 2.4 4.5 2.4" stroke-dashoffset="12.3"/>
<path d="M118.40 556.47L118.46 556.47L118.58 556.48L118.75 556.49L118.95 556.50L119.19 556.51L119.46 556.53L119.76 556.54L120.08 556.56L120.43 556.58L120.80 556.59L121.19 556.61L121.61 556.63L122.05 556.65L122.51 556.67L122.99 556.69L123.49 556.71L124.01 556.73L124.54 556.75L125.10 556.77L125.67 556.79L126.26 556.81L126.87 556.83L127.49 556.85L128.13 556.87L128.79 556.89L129.46 556.91L130.15 556.93L130.86 556.95L131.57 556.97L132.31 556.98L133.06 557.00L133.82 557.02L134.60 557.03L135.39 557.05L136.20 557.06L137.02 557.08L137.86 557.09L138.70 557.10L139.56 557.12L140.44 557.13L141.33 557.14L142.23 557.15L143.14 557.17L144.07 557.18L145.01 557.19L145.96 557.20L146.93 557.21L147.91 557.22L148.89 557.22L149.90 557.23L150.91 557.24L151.94 557.25L152.97 557.26L154.02 557.26L155.09 557.27L156.16 557.28L157.24 557.28L158.34 557.29L159.45 557.29L160.57 557.30L161.70 557.30L162.84 557.31L163.99 557.31L165.15 557.32L166.33 557.32L167.51 557.33L168.71 557.33L169.91 557.33L171.13 557.34L172.36 557.34L173.60 557.34L174.85 557.35L176.11 557.35L177.38 557.35L178.66 557.35L179.95 557.36L181.25 557.36L182.56 557.36L183.88 557.36L185.21 557.37L186.55 557.37L187.90 557.37L189.27 557.37L190.64 557.37L192.02 557.37L193.41 557.37L194.81 557.38L196.22 557.38L197.64 557.38L199.07 557.38L200.51 557.38L201.95 557.38L203.41 557.38L204.88 557.38L206.36 557.38L207.84 557.39L209.34 557.39L210.84 557.39L212.36 557.39L213.88 557.39L215.41 557.39L216.95 557.39L218.50 557.39L220.06 557.39L221.63 557.39L223.21 557.39L224.80 557.39L226.39 557.39L228.00 557.39L229.61 557.39L231.23 557.39L232.86 557.39L234.50 557.39L236.15 557.39L237.81 557.39L239.47 557.39L241.15 557.40L242.83 557.40L244.52 557.40L246.22 557.40L247.93 557.40L249.65 557.40L251.37 557.40L253.11 557.40L254.85 557.40L256.60 557.40L258.36 557.40L260.13 557.40L261.90 557.40L263.68 557.40L265.48 557.40L267.28 557.40L269.09 557.40L270.90 557.40L272.73 557.40L274.56 557.40L276.40 557.40L278.25 557.40L280.11 557.40L281.97 557.40L283.85 557.40L285.73 557.40L287.62 557.40L289.52 557.40L291.42 557.40L293.33 557.40L295.26 557.40L297.18 557.40L299.12 557.40L301.07 557.40L303.02 557.40L304.98 557.40L306.95 557.40L308.92 557.40L310.90 557.40L312.90 557.40L314.89 557.40L316.90 557.40L318.91 557.40L320.94 557.40L322.97 557.40L325.00 557.40L327.05 557.40L329.10 557.40L331.16 557.40L333.22 557.40L335.30 557.40L337.38 557.40L339.47 557.40L341.57 557.40L343.67 557.40L345.78 557.40L347.90 557.40L350.03 557.40L352.16 557.40L354.30 557.40L356.45 557.40L358.61 557.40L360.77 557.40L362.94 557.40L365.12 557.40L367.30 557.40L369.49 557.40L371.69 557.40L373.90 557.40L376.11 557.40L378.33 557.40L380.56 557.40L382.79 557.40L385.03 557.40L387.28 557.40L389.54 557.40L391.80 557.40L394.07 557.40L396.35 557.40L398.63 557.40L400.93 557.40L403.22 557.40L405.53 557.40L407.84 557.40L410.16 557.40L412.49 557.40L414.82 557.40L417.16 557.40L419.50 557.40L421.86 557.40L424.22 557.40L426.59 557.40L428.96 557.40L431.34 557.40L433.73 557.40L436.12 557.40L438.52 557.40L440.93 557.40L443.35 557.40L445.77 557.40L448.20 557.40L450.63 557.40L453.07 557.40L455.52 557.40L457.98 557.40L460.44 557.40L462.91 557.40L465.38 557.40L467.86 557.40L470.35 557.40L472.85 557.40L475.35 557.40L477.86 557.40L480.37 557.40L482.89 557.40L485.42 557.40L487.96 557.40L490.50 557.40L493.04 557.40L495.60 557.40L498.16 557.40L500.73 557.40L503.30 557.40" fill="none" stroke="#000" stroke-width="3.1" stroke-dasharray="8.5 2.6"/>
<path d="M116.00 618.97L116.06 618.90L116.18 618.76L116.35 618.57L116.56 618.35L116.80 618.08L117.07 617.79L117.36 617.46L117.69 617.11L118.04 616.74L118.41 616.34L118.81 615.92L119.23 615.49L119.67 615.03L120.13 614.56L120.62 614.08L121.12 613.58L121.64 613.07L122.18 612.54L122.74 612.01L123.32 611.46L123.91 610.91L124.52 610.35L125.15 609.78L125.79 609.21L126.45 608.63L127.13 608.04L127.82 607.46L128.53 606.86L129.26 606.27L130.00 605.67L130.75 605.07L131.52 604.47L132.30 603.87L133.10 603.27L133.91 602.67L134.74 602.07L135.58 601.47L136.43 600.87L137.30 600.28L138.18 599.68L139.07 599.09L139.98 598.50L140.90 597.92L141.83 597.34L142.78 596.76L143.73 596.19L144.71 595.62L145.69 595.06L146.68 594.50L147.69 593.94L148.71 593.39L149.75 592.85L150.79 592.31L151.85 591.78L152.91 591.25L153.99 590.73L155.09 590.21L156.19 589.70L157.30 589.20L158.43 588.70L159.57 588.21L160.71 587.72L161.87 587.24L163.04 586.77L164.22 586.30L165.42 585.84L166.62 585.38L167.84 584.93L169.06 584.49L170.30 584.05L171.54 583.62L172.80 583.20L174.07 582.78L175.34 582.37L176.63 581.97L177.93 581.57L179.24 581.17L180.56 580.79L181.89 580.41L183.23 580.03L184.58 579.66L185.94 579.30L187.31 578.94L188.69 578.59L190.08 578.25L191.48 577.91L192.89 577.57L194.30 577.24L195.73 576.92L197.17 576.60L198.62 576.29L200.08 575.98L201.54 575.68L203.02 575.38L204.51 575.09L206.00 574.80L207.51 574.52L209.02 574.24L210.54 573.97L212.08 573.70L213.62 573.44L215.17 573.18L216.73 572.93L218.30 572.68L219.88 572.43L221.46 572.19L223.06 571.95L224.66 571.72L226.28 571.49L227.90 571.27L229.53 571.05L231.18 570.83L232.83 570.62L234.48 570.41L236.15 570.21L237.83 570.00L239.51 569.81L241.21 569.61L242.91 569.42L244.62 569.23L246.34 569.05L248.06 568.87L249.80 568.69L251.55 568.52L253.30 568.35L255.06 568.18L256.83 568.01L258.61 567.85L260.40 567.69L262.19 567.53L263.99 567.38L265.81 567.23L267.63 567.08L269.45 566.94L271.29 566.79L273.14 566.65L274.99 566.52L276.85 566.38L278.72 566.25L280.59 566.12L282.48 565.99L284.37 565.86L286.27 565.74L288.18 565.62L290.10 565.50L292.03 565.38L293.96 565.27L295.90 565.15L297.85 565.04L299.80 564.93L301.77 564.82L303.74 564.72L305.72 564.62L307.71 564.51L309.71 564.41L311.71 564.32L313.72 564.22L315.74 564.12L317.77 564.03L319.80 563.94L321.84 563.85L323.89 563.76L325.95 563.68L328.01 563.59L330.08 563.51L332.16 563.42L334.25 563.34L336.35 563.26L338.45 563.19L340.56 563.11L342.68 563.03L344.80 562.96L346.93 562.89L349.07 562.81L351.22 562.74L353.37 562.67L355.53 562.61L357.70 562.54L359.88 562.47L362.06 562.41L364.25 562.35L366.45 562.28L368.66 562.22L370.87 562.16L373.09 562.10L375.32 562.04L377.55 561.99L379.79 561.93L382.04 561.87L384.30 561.82L386.56 561.77L388.83 561.71L391.11 561.66L393.39 561.61L395.68 561.56L397.98 561.51L400.29 561.46L402.60 561.41L404.92 561.37L407.25 561.32L409.58 561.27L411.92 561.23L414.27 561.19L416.62 561.14L418.98 561.10L421.35 561.06L423.73 561.02L426.11 560.98L428.50 560.94L430.89 560.90L433.29 560.86L435.70 560.82L438.12 560.78L440.54 560.74L442.97 560.71L445.41 560.67L447.85 560.64L450.30 560.60L452.76 560.57L455.22 560.53L457.69 560.50L460.17 560.47L462.66 560.44L465.15 560.41L467.64 560.37L470.15 560.34L472.66 560.31L475.18 560.28L477.70 560.25L480.23 560.23L482.77 560.20L485.31 560.17L487.86 560.14L490.42 560.11L492.98 560.09L495.55 560.06L498.13 560.04L500.71 560.01L503.30 559.99" fill="none" stroke="#000" stroke-width="3.1"/>
</g>
<rect x="116" y="438" width="387.3" height="240" fill="none" stroke="#000" stroke-width="1.7"/>
<path d="M124.61 678v-2.6M124.61 438v2.6M141.82 678v-2.6M141.82 438v2.6M159.03 678v-4.6M159.03 438v4.6M176.25 678v-2.6M176.25 438v2.6M193.46 678v-2.6M193.46 438v2.6M210.67 678v-2.6M210.67 438v2.6M227.89 678v-2.6M227.89 438v2.6M245.1 678v-4.6M245.1 438v4.6M262.31 678v-2.6M262.31 438v2.6M279.53 678v-2.6M279.53 438v2.6M296.74 678v-2.6M296.74 438v2.6M313.95 678v-2.6M313.95 438v2.6M331.17 678v-4.6M331.17 438v4.6M348.38 678v-2.6M348.38 438v2.6M365.59 678v-2.6M365.59 438v2.6M382.81 678v-2.6M382.81 438v2.6M400.02 678v-2.6M400.02 438v2.6M417.23 678v-4.6M417.23 438v4.6M434.45 678v-2.6M434.45 438v2.6M451.66 678v-2.6M451.66 438v2.6M468.87 678v-2.6M468.87 438v2.6M486.09 678v-2.6M486.09 438v2.6M116 666h2.6M503.3 666h-2.6M116 654h2.6M503.3 654h-2.6M116 642h2.6M503.3 642h-2.6M116 630h2.6M503.3 630h-2.6M116 618h4.6M503.3 618h-4.6M116 606h2.6M503.3 606h-2.6M116 594h2.6M503.3 594h-2.6M116 582h2.6M503.3 582h-2.6M116 570h2.6M503.3 570h-2.6M116 558h4.6M503.3 558h-4.6M116 546h2.6M503.3 546h-2.6M116 534h2.6M503.3 534h-2.6M116 522h2.6M503.3 522h-2.6M116 510h2.6M503.3 510h-2.6M116 498h4.6M503.3 498h-4.6M116 486h2.6M503.3 486h-2.6M116 474h2.6M503.3 474h-2.6M116 462h2.6M503.3 462h-2.6M116 450h2.6M503.3 450h-2.6" fill="none" stroke="#000" stroke-width="1.3"/>
<text transform="translate(113.6 687.7) scale(0.95 1.0)" font-size="30" text-anchor="end">0.98</text>
<text transform="translate(113.6 627.7) scale(0.95 1.0)" font-size="30" text-anchor="end">0.99</text>
<text transform="translate(113.6 567.7) scale(0.95 1.0)" font-size="30" text-anchor="end">1.00</text>
<text transform="translate(113.6 507.7) scale(0.95 1.0)" font-size="30" text-anchor="end">1.01</text>
<text transform="translate(113.6 447.7) scale(0.95 1.0)" font-size="30" text-anchor="end">1.02</text>
<text transform="translate(159.93 701.3) scale(0.95 1.0)" font-size="30" text-anchor="middle">2</text>
<text transform="translate(246 701.3) scale(0.95 1.0)" font-size="30" text-anchor="middle">3</text>
<text transform="translate(332.07 701.3) scale(0.95 1.0)" font-size="30" text-anchor="middle">4</text>
<text transform="translate(418.13 701.3) scale(0.95 1.0)" font-size="30" text-anchor="middle">5</text>
<text transform="translate(504.2 701.3) scale(0.95 1.0)" font-size="30" text-anchor="middle">6</text>
<text transform="translate(276.3 723) scale(0.965 1.0)" font-size="30">T/T</text>
<text transform="translate(319.8 709.6) scale(0.965 1.0)" font-size="15">0</text>
<text transform="translate(319.8 723) scale(0.965 1.0)" font-size="15">F</text>
<text x="11.5" y="415.3" font-size="30">c)</text>
<text transform="translate(54.4 564.54) rotate(-90) scale(1.054 1)" font-size="29.71">λ</text>
</g>
<g id="panel-d">
<clipPath id="cd"><rect x="680.7" y="444" width="368.8" height="228.7"/></clipPath>
<g clip-path="url(#cd)">
<path d="M680.70 504.05L680.76 504.45L680.87 505.27L681.03 506.38L681.23 507.72L681.46 509.27L681.71 511.00L682.00 512.88L682.31 514.90L682.64 517.04L683.00 519.30L683.38 521.64L683.78 524.08L684.20 526.58L684.64 529.16L685.10 531.78L685.57 534.45L686.07 537.16L686.59 539.90L687.12 542.65L687.67 545.43L688.23 548.22L688.81 551.00L689.41 553.79L690.03 556.57L690.66 559.34L691.30 562.09L691.96 564.83L692.63 567.54L693.32 570.22L694.03 572.88L694.75 575.50L695.48 578.09L696.22 580.64L696.98 583.15L697.76 585.62L698.54 588.05L699.34 590.44L700.15 592.78L700.98 595.08L701.82 597.33L702.67 599.53L703.53 601.68L704.41 603.79L705.30 605.85L706.20 607.86L707.11 609.83L708.03 611.74L708.97 613.61L709.92 615.43L710.88 617.20L711.85 618.93L712.83 620.61L713.83 622.24L714.83 623.83L715.85 625.38L716.88 626.88L717.92 628.34L718.97 629.76L720.03 631.13L721.10 632.46L722.18 633.76L723.28 635.01L724.38 636.23L725.50 637.41L726.62 638.55L727.76 639.66L728.90 640.73L730.06 641.77L731.23 642.78L732.40 643.75L733.59 644.70L734.79 645.61L735.99 646.49L737.21 647.34L738.44 648.17L739.67 648.97L740.92 649.74L742.18 650.49L743.44 651.21L744.72 651.90L746.00 652.58L747.30 653.23L748.60 653.86L749.92 654.47L751.24 655.05L752.57 655.62L753.91 656.17L755.26 656.70L756.62 657.21L757.99 657.70L759.37 658.18L760.76 658.64L762.16 659.08L763.56 659.51L764.98 659.93L766.40 660.33L767.83 660.71L769.28 661.08L770.73 661.44L772.19 661.79L773.65 662.13L775.13 662.45L776.62 662.76L778.11 663.06L779.61 663.35L781.13 663.63L782.65 663.90L784.17 664.17L785.71 664.42L787.26 664.66L788.81 664.90L790.37 665.12L791.94 665.34L793.52 665.55L795.11 665.76L796.71 665.96L798.31 666.15L799.92 666.33L801.55 666.51L803.17 666.68L804.81 666.84L806.46 667.00L808.11 667.16L809.77 667.30L811.44 667.45L813.12 667.59L814.80 667.72L816.50 667.85L818.20 667.97L819.91 668.09L821.63 668.21L823.35 668.32L825.08 668.43L826.82 668.54L828.57 668.64L830.33 668.74L832.09 668.83L833.87 668.92L835.65 669.01L837.43 669.09L839.23 669.18L841.03 669.26L842.84 669.33L844.66 669.41L846.48 669.48L848.32 669.55L850.16 669.62L852.01 669.68L853.86 669.74L855.73 669.80L857.60 669.86L859.47 669.92L861.36 669.97L863.25 670.03L865.15 670.08L867.06 670.13L868.98 670.18L870.90 670.22L872.83 670.27L874.76 670.31L876.71 670.35L878.66 670.39L880.62 670.43L882.59 670.47L884.56 670.51L886.54 670.54L888.53 670.58L890.52 670.61L892.52 670.64L894.53 670.67L896.55 670.70L898.57 670.73L900.60 670.76L902.64 670.79L904.68 670.82L906.73 670.84L908.79 670.87L910.86 670.89L912.93 670.91L915.01 670.94L917.10 670.96L919.19 670.98L921.29 671.00L923.40 671.02L925.51 671.04L927.63 671.06L929.76 671.08L931.89 671.09L934.03 671.11L936.18 671.13L938.34 671.14L940.50 671.16L942.67 671.17L944.84 671.19L947.02 671.20L949.21 671.22L951.41 671.23L953.61 671.24L955.82 671.26L958.03 671.27L960.26 671.28L962.48 671.29L964.72 671.30L966.96 671.31L969.21 671.32L971.46 671.33L973.73 671.34L975.99 671.35L978.27 671.36L980.55 671.37L982.84 671.38L985.13 671.39L987.43 671.40L989.74 671.41L992.05 671.41L994.38 671.42L996.70 671.43L999.04 671.44L1001.37 671.44L1003.72 671.45L1006.07 671.46L1008.43 671.46L1010.80 671.47L1013.17 671.47L1015.55 671.48L1017.93 671.49L1020.32 671.49L1022.72 671.50L1025.12 671.50L1027.53 671.51L1029.95 671.51L1032.37 671.52L1034.80 671.52L1037.23 671.53L1039.67 671.53L1042.12 671.53L1044.57 671.54L1047.03 671.54L1049.50 671.55" fill="none" stroke="#000" stroke-width="3.1" stroke-dasharray="8.5 2.6" stroke-dashoffset="4"/>
<path d="M680.70 514.28L680.76 514.65L680.87 515.39L681.03 516.40L681.23 517.63L681.46 519.04L681.71 520.62L682.00 522.34L682.31 524.18L682.64 526.14L683.00 528.20L683.38 530.35L683.78 532.58L684.20 534.88L684.64 537.23L685.10 539.64L685.57 542.09L686.07 544.58L686.59 547.10L687.12 549.64L687.67 552.20L688.23 554.77L688.81 557.34L689.41 559.91L690.03 562.48L690.66 565.05L691.30 567.60L691.96 570.13L692.63 572.65L693.32 575.14L694.03 577.61L694.75 580.05L695.48 582.46L696.22 584.83L696.98 587.18L697.76 589.49L698.54 591.76L699.34 593.99L700.15 596.18L700.98 598.33L701.82 600.44L702.67 602.51L703.53 604.54L704.41 606.52L705.30 608.46L706.20 610.35L707.11 612.20L708.03 614.01L708.97 615.78L709.92 617.50L710.88 619.18L711.85 620.81L712.83 622.40L713.83 623.95L714.83 625.46L715.85 626.93L716.88 628.36L717.92 629.75L718.97 631.10L720.03 632.41L721.10 633.68L722.18 634.91L723.28 636.11L724.38 637.28L725.50 638.41L726.62 639.50L727.76 640.56L728.90 641.59L730.06 642.59L731.23 643.55L732.40 644.49L733.59 645.39L734.79 646.27L735.99 647.12L737.21 647.94L738.44 648.74L739.67 649.51L740.92 650.25L742.18 650.97L743.44 651.67L744.72 652.35L746.00 653.00L747.30 653.63L748.60 654.24L749.92 654.83L751.24 655.39L752.57 655.94L753.91 656.48L755.26 656.99L756.62 657.49L757.99 657.97L759.37 658.43L760.76 658.88L762.16 659.31L763.56 659.73L764.98 660.13L766.40 660.52L767.83 660.90L769.28 661.26L770.73 661.61L772.19 661.95L773.65 662.28L775.13 662.59L776.62 662.90L778.11 663.19L779.61 663.47L781.13 663.75L782.65 664.01L784.17 664.27L785.71 664.52L787.26 664.76L788.81 664.99L790.37 665.21L791.94 665.42L793.52 665.63L795.11 665.83L796.71 666.03L798.31 666.21L799.92 666.39L801.55 666.57L803.17 666.73L804.81 666.90L806.46 667.05L808.11 667.20L809.77 667.35L811.44 667.49L813.12 667.63L814.80 667.76L816.50 667.89L818.20 668.01L819.91 668.13L821.63 668.24L823.35 668.35L825.08 668.46L826.82 668.57L828.57 668.67L830.33 668.76L832.09 668.86L833.87 668.95L835.65 669.03L837.43 669.12L839.23 669.20L841.03 669.28L842.84 669.35L844.66 669.43L846.48 669.50L848.32 669.57L850.16 669.63L852.01 669.70L853.86 669.76L855.73 669.82L857.60 669.88L859.47 669.93L861.36 669.99L863.25 670.04L865.15 670.09L867.06 670.14L868.98 670.19L870.90 670.23L872.83 670.28L874.76 670.32L876.71 670.36L878.66 670.40L880.62 670.44L882.59 670.48L884.56 670.51L886.54 670.55L888.53 670.58L890.52 670.62L892.52 670.65L894.53 670.68L896.55 670.71L898.57 670.74L900.60 670.77L902.64 670.79L904.68 670.82L906.73 670.85L908.79 670.87L910.86 670.89L912.93 670.92L915.01 670.94L917.10 670.96L919.19 670.98L921.29 671.00L923.40 671.02L925.51 671.04L927.63 671.06L929.76 671.08L931.89 671.10L934.03 671.11L936.18 671.13L938.34 671.15L940.50 671.16L942.67 671.18L944.84 671.19L947.02 671.21L949.21 671.22L951.41 671.23L953.61 671.25L955.82 671.26L958.03 671.27L960.26 671.28L962.48 671.29L964.72 671.30L966.96 671.31L969.21 671.33L971.46 671.34L973.73 671.35L975.99 671.35L978.27 671.36L980.55 671.37L982.84 671.38L985.13 671.39L987.43 671.40L989.74 671.41L992.05 671.41L994.38 671.42L996.70 671.43L999.04 671.44L1001.37 671.44L1003.72 671.45L1006.07 671.46L1008.43 671.46L1010.80 671.47L1013.17 671.47L1015.55 671.48L1017.93 671.49L1020.32 671.49L1022.72 671.50L1025.12 671.50L1027.53 671.51L1029.95 671.51L1032.37 671.52L1034.80 671.52L1037.23 671.53L1039.67 671.53L1042.12 671.53L1044.57 671.54L1047.03 671.54L1049.50 671.55" fill="none" stroke="#000" stroke-width="3.1" stroke-dasharray="8.7 2.4 4.5 2.4" stroke-dashoffset="11.3"/>
<path d="M680.70 524.51L680.76 524.84L680.87 525.52L681.03 526.43L681.23 527.54L681.46 528.81L681.71 530.24L682.00 531.79L682.31 533.46L682.64 535.24L683.00 537.11L683.38 539.06L683.78 541.08L684.20 543.17L684.64 545.31L685.10 547.50L685.57 549.74L686.07 552.01L686.59 554.31L687.12 556.63L687.67 558.97L688.23 561.32L688.81 563.68L689.41 566.04L690.03 568.40L690.66 570.75L691.30 573.10L691.96 575.43L692.63 577.75L693.32 580.05L694.03 582.34L694.75 584.59L695.48 586.82L696.22 589.03L696.98 591.20L697.76 593.35L698.54 595.46L699.34 597.54L700.15 599.58L700.98 601.59L701.82 603.56L702.67 605.49L703.53 607.39L704.41 609.24L705.30 611.06L706.20 612.84L707.11 614.58L708.03 616.28L708.97 617.94L709.92 619.56L710.88 621.15L711.85 622.69L712.83 624.20L713.83 625.66L714.83 627.09L715.85 628.48L716.88 629.84L717.92 631.15L718.97 632.44L720.03 633.68L721.10 634.89L722.18 636.07L723.28 637.21L724.38 638.32L725.50 639.40L726.62 640.45L727.76 641.46L728.90 642.45L730.06 643.40L731.23 644.33L732.40 645.22L733.59 646.09L734.79 646.94L735.99 647.75L737.21 648.54L738.44 649.31L739.67 650.05L740.92 650.77L742.18 651.46L743.44 652.14L744.72 652.79L746.00 653.42L747.30 654.03L748.60 654.61L749.92 655.18L751.24 655.74L752.57 656.27L753.91 656.78L755.26 657.28L756.62 657.76L757.99 658.23L759.37 658.68L760.76 659.11L762.16 659.53L763.56 659.94L764.98 660.33L766.40 660.71L767.83 661.08L769.28 661.43L770.73 661.78L772.19 662.11L773.65 662.42L775.13 662.73L776.62 663.03L778.11 663.32L779.61 663.60L781.13 663.87L782.65 664.12L784.17 664.38L785.71 664.62L787.26 664.85L788.81 665.08L790.37 665.29L791.94 665.51L793.52 665.71L795.11 665.91L796.71 666.10L798.31 666.28L799.92 666.46L801.55 666.63L803.17 666.79L804.81 666.95L806.46 667.11L808.11 667.25L809.77 667.40L811.44 667.54L813.12 667.67L814.80 667.80L816.50 667.93L818.20 668.05L819.91 668.16L821.63 668.28L823.35 668.39L825.08 668.49L826.82 668.59L828.57 668.69L830.33 668.79L832.09 668.88L833.87 668.97L835.65 669.05L837.43 669.14L839.23 669.22L841.03 669.30L842.84 669.37L844.66 669.44L846.48 669.51L848.32 669.58L850.16 669.65L852.01 669.71L853.86 669.77L855.73 669.83L857.60 669.89L859.47 669.94L861.36 670.00L863.25 670.05L865.15 670.10L867.06 670.15L868.98 670.20L870.90 670.24L872.83 670.29L874.76 670.33L876.71 670.37L878.66 670.41L880.62 670.45L882.59 670.48L884.56 670.52L886.54 670.56L888.53 670.59L890.52 670.62L892.52 670.65L894.53 670.68L896.55 670.71L898.57 670.74L900.60 670.77L902.64 670.80L904.68 670.82L906.73 670.85L908.79 670.87L910.86 670.90L912.93 670.92L915.01 670.94L917.10 670.97L919.19 670.99L921.29 671.01L923.40 671.03L925.51 671.05L927.63 671.06L929.76 671.08L931.89 671.10L934.03 671.12L936.18 671.13L938.34 671.15L940.50 671.16L942.67 671.18L944.84 671.19L947.02 671.21L949.21 671.22L951.41 671.23L953.61 671.25L955.82 671.26L958.03 671.27L960.26 671.28L962.48 671.29L964.72 671.31L966.96 671.32L969.21 671.33L971.46 671.34L973.73 671.35L975.99 671.36L978.27 671.36L980.55 671.37L982.84 671.38L985.13 671.39L987.43 671.40L989.74 671.41L992.05 671.41L994.38 671.42L996.70 671.43L999.04 671.44L1001.37 671.44L1003.72 671.45L1006.07 671.46L1008.43 671.46L1010.80 671.47L1013.17 671.47L1015.55 671.48L1017.93 671.49L1020.32 671.49L1022.72 671.50L1025.12 671.50L1027.53 671.51L1029.95 671.51L1032.37 671.52L1034.80 671.52L1037.23 671.53L1039.67 671.53L1042.12 671.53L1044.57 671.54L1047.03 671.54L1049.50 671.55" fill="none" stroke="#000" stroke-width="3.1"/>
</g>
<rect x="680.7" y="444" width="368.8" height="227.7" fill="none" stroke="#000" stroke-width="1.7"/>
<path d="M688.9 671.7v-2.6M688.9 444v2.6M705.29 671.7v-2.6M705.29 444v2.6M721.68 671.7v-4.6M721.68 444v4.6M738.07 671.7v-2.6M738.07 444v2.6M754.46 671.7v-2.6M754.46 444v2.6M770.85 671.7v-2.6M770.85 444v2.6M787.24 671.7v-2.6M787.24 444v2.6M803.63 671.7v-4.6M803.63 444v4.6M820.02 671.7v-2.6M820.02 444v2.6M836.42 671.7v-2.6M836.42 444v2.6M852.81 671.7v-2.6M852.81 444v2.6M869.2 671.7v-2.6M869.2 444v2.6M885.59 671.7v-4.6M885.59 444v4.6M901.98 671.7v-2.6M901.98 444v2.6M918.37 671.7v-2.6M918.37 444v2.6M934.76 671.7v-2.6M934.76 444v2.6M951.15 671.7v-2.6M951.15 444v2.6M967.54 671.7v-4.6M967.54 444v4.6M983.94 671.7v-2.6M983.94 444v2.6M1000.33 671.7v-2.6M1000.33 444v2.6M1016.72 671.7v-2.6M1016.72 444v2.6M1033.11 671.7v-2.6M1033.11 444v2.6M680.7 657.47h2.6M1049.5 657.47h-2.6M680.7 643.24h2.6M1049.5 643.24h-2.6M680.7 629.01h2.6M1049.5 629.01h-2.6M680.7 614.78h4.6M1049.5 614.78h-4.6M680.7 600.54h2.6M1049.5 600.54h-2.6M680.7 586.31h2.6M1049.5 586.31h-2.6M680.7 572.08h2.6M1049.5 572.08h-2.6M680.7 557.85h4.6M1049.5 557.85h-4.6M680.7 543.62h2.6M1049.5 543.62h-2.6M680.7 529.39h2.6M1049.5 529.39h-2.6M680.7 515.16h2.6M1049.5 515.16h-2.6M680.7 500.93h4.6M1049.5 500.93h-4.6M680.7 486.69h2.6M1049.5 486.69h-2.6M680.7 472.46h2.6M1049.5 472.46h-2.6M680.7 458.23h2.6M1049.5 458.23h-2.6" fill="none" stroke="#000" stroke-width="1.3"/>
<text transform="translate(677.5 681.1) scale(0.967 1.0)" font-size="30" text-anchor="end">1.00000</text>
<text transform="translate(677.5 624.18) scale(0.967 1.0)" font-size="30" text-anchor="end">1.00002</text>
<text transform="translate(677.5 567.25) scale(0.967 1.0)" font-size="30" text-anchor="end">1.00004</text>
<text transform="translate(677.5 510.32) scale(0.967 1.0)" font-size="30" text-anchor="end">1.00006</text>
<text transform="translate(677.5 453.4) scale(0.967 1.0)" font-size="30" text-anchor="end">1.00008</text>
<text transform="translate(722.58 693.6) scale(0.95 1.0)" font-size="30" text-anchor="middle">2</text>
<text transform="translate(804.53 693.6) scale(0.95 1.0)" font-size="30" text-anchor="middle">3</text>
<text transform="translate(886.49 693.6) scale(0.95 1.0)" font-size="30" text-anchor="middle">4</text>
<text transform="translate(968.44 693.6) scale(0.95 1.0)" font-size="30" text-anchor="middle">5</text>
<text transform="translate(1050.4 693.6) scale(0.95 1.0)" font-size="30" text-anchor="middle">6</text>
<text transform="translate(854.7 724) scale(0.965 1.0)" font-size="30">T/T</text>
<text transform="translate(898.2 710.6) scale(0.965 1.0)" font-size="15">0</text>
<text transform="translate(898.2 724) scale(0.965 1.0)" font-size="15">F</text>
<text x="563.2" y="407.5" font-size="30">d)</text>
<text transform="translate(571.51 565.34) rotate(-90) scale(0.976 1)" font-size="29.44">θ</text>
</g>
</svg></body></html>
